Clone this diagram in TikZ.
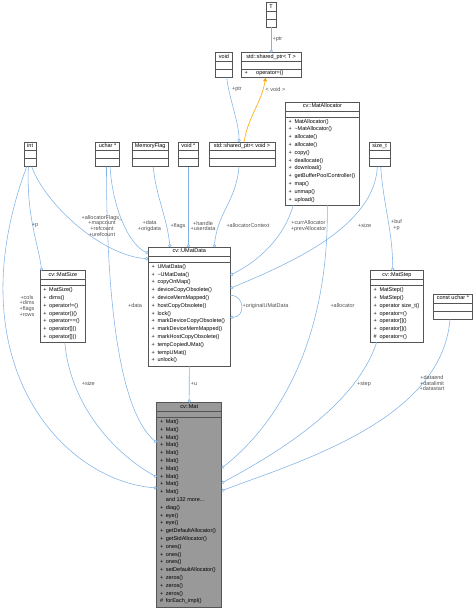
\documentclass[tikz,border=0pt]{standalone}
\usepackage{fontspec}
\setmainfont{Liberation Sans}
\usetikzlibrary{arrows.meta,calc}
\definecolor{edgeblue}{HTML}{7FB2E5}
\definecolor{boxline}{HTML}{555555}
\definecolor{labelgray}{HTML}{505050}
\definecolor{matfill}{HTML}{999999}
\definecolor{tmplorange}{HTML}{FFA500}
\newcommand\mydots{...}

\newcommand\ubox[8][]{%
  \node[cbox,#1,minimum width=#5pt,minimum height=#6pt,anchor=north west] (#2) at (#3,#4) {};
  \node[ttext] (#2-title) at ($(#2.north)+(0,4.25)$) {#7};
  \draw[sepline] ($(#2.north west)+(0,8.5)$) -- ($(#2.north east)+(0,8.5)$);
  \draw[sepline] ($(#2.north west)+(0,#8)$) -- ($(#2.north east)+(0,#8)$);
}
\newcommand\mrows[4]{%
  \foreach \s/\m [count=\i from 0] in {#4} {
    \node[mtext,anchor=west] (#1-s\i) at ({#2+3.2},{#3+\i*7.8}) {\s};
    \node[mtext,anchor=west] (#1-m\i) at ({#2+9},{#3+\i*7.8}) {\m};
  }
}

\begin{document}
\begin{tikzpicture}[x=1pt,y=-1pt,
  cbox/.style={draw=boxline,line width=0.5pt,fill=white,inner sep=0pt,outer sep=0pt,rectangle},
  sepline/.style={draw=boxline,line width=0.5pt},
  ttext/.style={font=\fontsize{5.5}{6}\selectfont,inner sep=0pt,text height=4pt,text depth=1.2pt},
  mtext/.style={font=\fontsize{5.5}{6}\selectfont,inner sep=0pt,text height=4pt,text depth=1.2pt},
  elabel/.style={font=\fontsize{5.5}{5.7}\selectfont,text=labelgray,align=center,inner sep=0pt},
  memb/.style={draw=edgeblue,line width=0.55pt,-{Circle[open,length=3.2pt,width=3.2pt]}},
  tmpl/.style={draw=tmplorange,line width=0.6pt,-{Triangle[length=4pt,width=3.6pt]}}]
\useasboundingbox (0,0) rectangle (474,609);

% ---- boxes ----
\ubox{tT}{266}{2.7}{10.3}{24.3}{T}{16.4}
\ubox{void}{215.7}{52.7}{16.6}{24.6}{void}{16.6}
\ubox{sptrT}{241.3}{52.7}{59.7}{24.6}{std::shared\_ptr< T >}{16.6}
\node[mtext,anchor=west] (sptrT-s0) at (244.5,73) {+};
\node[mtext,anchor=west] (sptrT-m0) at (256,73) {operator=()};

\ubox{alloc}{285.3}{102.3}{74.4}{102.8}{cv::MatAllocator}{14.5}
\mrows{alloc}{285.3}{121.8}{+/MatAllocator(), +/\textasciitilde MatAllocator(), +/allocate(), +/allocate(), +/copy(), +/deallocate(), +/download(), +/getBufferPoolController(), +/map(), +/unmap(), +/upload()}

\ubox{int}{24.3}{142}{11.7}{24.7}{int}{16.6}
\ubox{uchar}{95.7}{142}{23.6}{24.7}{uchar *}{16.6}
\ubox{memflag}{132}{142}{36.3}{24.7}{MemoryFlag}{16.6}
\ubox{voidp}{178.7}{142}{19.3}{24.7}{void *}{16.6}
\ubox{sptrV}{209}{142}{66}{24.7}{std::shared\_ptr< void >}{16.6}
\ubox{sizet}{369.3}{142}{20.7}{24.7}{size\_t}{16.6}

\ubox{umat}{148.3}{247.3}{82}{118.5}{cv::UMatData}{14.5}
\mrows{umat}{148.3}{266.8}{+/UMatData(), +/\textasciitilde UMatData(), +/copyOnMap(), +/deviceCopyObsolete(), +/deviceMemMapped(), +/hostCopyObsolete(), +/lock(), +/markDeviceCopyObsolete(), +/markDeviceMemMapped(), +/markHostCopyObsolete(), +/tempCopiedUMat(), +/tempUMat(), +/unlock()}

\ubox{matsize}{40}{270.7}{45.7}{72}{cv::MatSize}{14.5}
\mrows{matsize}{40}{290.2}{+/MatSize(), +/dims(), +/operator!=(), +/operator()(), +/operator==(), +/operator[](), +/operator[]()}

\ubox{matstep}{370.3}{270.7}{53.4}{71.6}{cv::MatStep}{14.5}
\mrows{matstep}{370.3}{290.2}{+/MatStep(), +/MatStep(), +/operator size\_t(), +/operator=(), +/operator[](), +/operator[](), \#/operator=()}

\ubox{cuchar}{433}{294.3}{39.7}{25}{const uchar *}{16.6}

\ubox[fill=matfill]{mat}{156.7}{402.5}{65}{204.5}{cv::Mat}{14.5}
\mrows{mat}{156.7}{422}{+/Mat(), +/Mat(), +/Mat(), +/Mat(), +/Mat(), +/Mat(), +/Mat(), +/Mat(), +/Mat(), +/Mat(), /and 132 more\mydots, +/diag(), +/eye(), +/eye(), +/getDefaultAllocator(), +/getStdAllocator(), +/ones(), +/ones(), +/ones(), +/setDefaultAllocator(), +/zeros(), +/zeros(), +/zeros(), \#/forEach\_impl()}

% ---- connectors ----
\draw[memb] (tT.south) -- (sptrT.north);
\draw[memb] ([xshift=2.7pt]void.south) .. controls +(2,20) and +(0,-20) .. ([xshift=30pt]sptrV.north west);
\draw[tmpl] ([xshift=35pt]sptrV.north west) .. controls +(4,-25) and +(-4,25) .. ([xshift=-5.5pt]sptrT.south);

\draw[memb] ([xshift=1.5pt]int.south) .. controls +(15,40) and +(-45,-3) .. ([yshift=-11.5pt]umat.north west);
\draw[memb] ([xshift=-1.8pt]int.south) .. controls +(-2,50) and +(-3,-25) .. ([xshift=1.7pt]matsize.north west);
\draw[memb] ([xshift=-3.5pt]int.south) .. controls (-45,360) and (60,480) .. ([yshift=-85.5pt]mat.north west);

\draw[memb] ([xshift=2.5pt]uchar.south) .. controls +(3,45) and +(-18,-8) .. ([yshift=-6pt]umat.north west);
\draw[memb] ([xshift=-1pt]uchar.south) .. controls +(0,170) and +(-30,-25) .. ([yshift=-40pt]mat.north west);

\draw[memb] ([xshift=3pt]memflag.south) .. controls +(3,30) and +(-3,-30) .. ([xshift=21.7pt]umat.north west);
\draw[memb] (voidp.south) -- (voidp.south |- umat.north);
\draw[memb] ([xshift=-3pt]sptrV.south) .. controls +(-3,35) and +(3,-35) .. ([xshift=66pt]umat.north west);

\draw[memb] ([xshift=8pt]alloc.south west) .. controls +(-10,35) and +(25,-12) .. ([yshift=-27.7pt]umat.north east);
\draw[memb] ([xshift=-2.3pt]sizet.south) .. controls +(-3,60) and +(60,-25) .. ([yshift=-41pt]umat.north east);
\draw[memb] ([yshift=-48pt]umat.north east) .. controls +(15,0) and +(15,0) .. ([yshift=-70pt]umat.north east);
\draw[memb] ([xshift=1pt]sizet.south) .. controls +(3,40) and +(0,-40) .. ([xshift=22.4pt]matstep.north west);

\draw[memb] ([xshift=42pt]alloc.south west) .. controls +(2,150) and +(45,-35) .. ([yshift=-65.5pt]mat.north east);
\draw[memb] ([xshift=2pt]matsize.south) .. controls +(5,60) and +(-45,-25) .. ([yshift=-74.5pt]mat.north west);
\draw[memb] (umat.south) -- (mat.north);
\draw[memb] ([xshift=-20.3pt]matstep.south) .. controls +(-20,60) and +(65,-35) .. ([yshift=-80.5pt]mat.north east);
\draw[memb] ([xshift=-2.85pt]cuchar.south) .. controls +(-8,100) and +(80,-30) .. ([yshift=-88.2pt]mat.north east);

% ---- connector labels ----
\node[elabel] (l1) at (277.5,39) {+ptr};
\node[elabel] (l2) at (237,89) {+ptr};
\node[elabel] (l3) at (275.5,89.3) {< void >};
\node[elabel] (l4) at (102,225.8) {+allocatorFlags\_\\+mapcount\\+refcount\\+urefcount};
\node[elabel] (l5) at (149.5,225.9) {+data\\+origdata};
\node[elabel] (l6) at (178,225.7) {+flags};
\node[elabel] (l7) at (203,225.9) {+handle\\+userdata};
\node[elabel] (l8) at (248,225.3) {+allocatorContext};
\node[elabel] (l9) at (308.5,226) {+currAllocator\\+prevAllocator};
\node[elabel] (l10) at (364.7,225.3) {+size};
\node[elabel] (l11) at (396.5,225.4) {+buf\\+p};
\node[elabel] (l12) at (35,225.7) {+p};
\node[elabel] (l13) at (265.5,306) {+originalUMatData};
\node[elabel] (l14) at (27,305.7) {+cols\\+dims\\+flags\\+rows};
\node[elabel] (l15) at (135,306) {+data};
\node[elabel] (l16) at (342.5,306) {+allocator};
\node[elabel] (l17) at (88.3,384) {+size};
\node[elabel] (l18) at (194,384) {+u};
\node[elabel] (l19) at (364,384) {+step};
\node[elabel] (l20) at (432,383.3) {+dataend\\+datalimit\\+datastart};
\end{tikzpicture}
\end{document}
